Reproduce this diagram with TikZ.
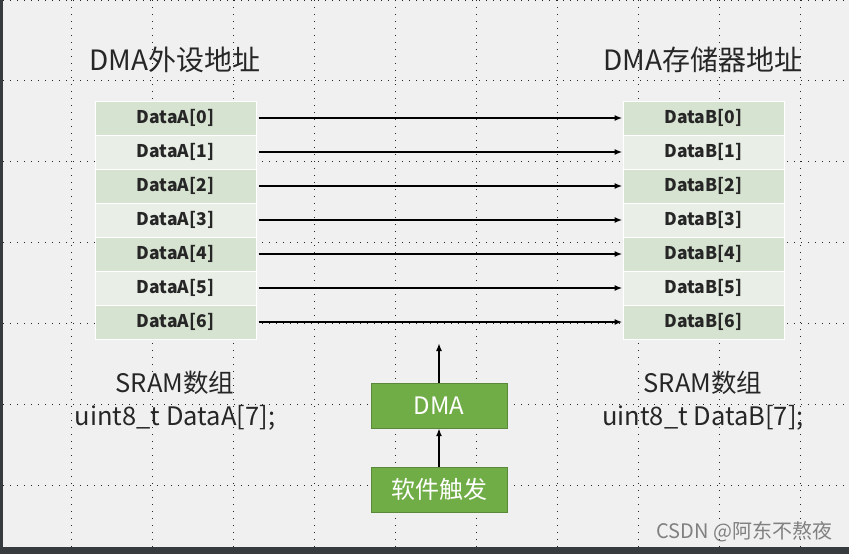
\documentclass[tikz,border=0pt]{standalone}
\usepackage{fontspec}
\setmainfont{Noto Sans CJK SC}
\usetikzlibrary{arrows.meta}
\definecolor{bg}{HTML}{F0F0F0}
\definecolor{cA}{HTML}{D6E3D0}
\definecolor{cB}{HTML}{E9EFE6}
\definecolor{gr}{HTML}{70AD47}
\definecolor{dk}{HTML}{373B3E}
\tikzset{
 cell/.style={draw=white,line width=1pt,minimum width=161pt,minimum height=34pt,inner sep=0pt,font=\fontsize{17.5}{17.5}\selectfont\bfseries,text=black!85},
 gbox/.style={fill=gr,draw=gr!80!black,minimum width=136pt,minimum height=45pt,inner sep=0pt,text=white,font=\fontsize{24}{24}\selectfont},
 arr/.style={-{Latex[length=8pt,width=6pt]},line width=2pt},
 big/.style={font=\fontsize{28}{34}\selectfont,align=center,text=black!85},
 low/.style={font=\fontsize{25.5}{33}\selectfont,align=center,text=black!85},
 grid/.style={line width=1pt,black!85,dash pattern=on 1pt off 6pt}
}
\begin{document}
\begin{tikzpicture}[x=1pt,y=-1pt]
\useasboundingbox (0,0) rectangle (849,554);
\fill[bg] (0,0) rectangle (849,554);
\foreach \x in {71,152,233,314,395,476,557,638,719,800}
  \draw[grid] (\x,0) -- (\x,547);
\foreach \y in {0,80,161,242,323,404,485}
  \draw[grid] (3,\y) -- (849,\y);
\fill[dk] (0,0) rectangle (3,554);
\fill[dk] (0,547) rectangle (849,554);
\node[big] (tl) at (175,60) {DMA外设地址};
\node[big] (tr) at (703,60) {DMA存储器地址};
\foreach \i in {0,...,6}{
  \pgfmathsetmacro{\yy}{118+34*\i}
  \ifodd\i \def\cc{cB}\else\def\cc{cA}\fi
  \node[cell,fill=\cc] (a\i) at (175.5,\yy) {DataA[\i]};
  \node[cell,fill=\cc] (b\i) at (703.5,\yy) {DataB[\i]};
  \draw[arr] (a\i.east) ++(2,0) -- (b\i.west);
}
\node[low] (sl) at (175,401) {SRAM数组\\uint8\_t DataA[7];};
\node[low] (sr) at (703,401) {SRAM数组\\uint8\_t DataB[7];};
\node[gbox] (dma) at (439,405.5) {DMA};
\node[gbox] (sw) at (439,489.5) {软件触发};
\coordinate (top) at (439,343);
\draw[arr] (sw.north) -- (dma.south);
\draw[arr] (dma.north) -- (top);
\node[anchor=east,text=gray,font=\fontsize{20}{20}\selectfont] (wm) at (836,532) {CSDN @阿东不熬夜};
\end{tikzpicture}
\end{document}
